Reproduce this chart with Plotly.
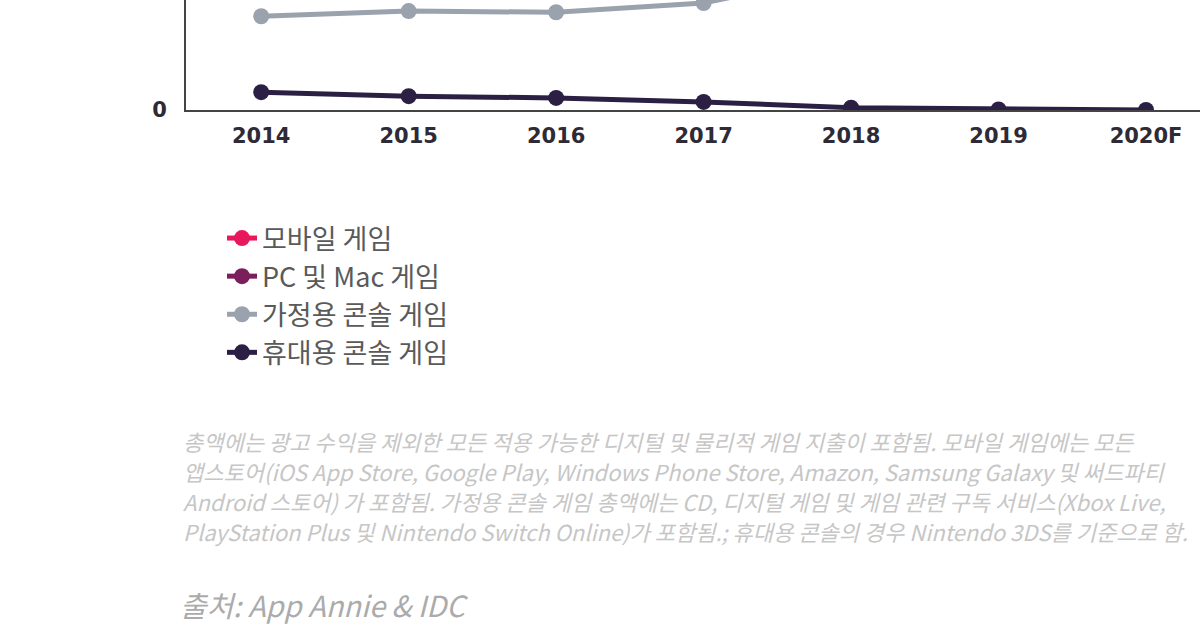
import plotly.graph_objects as go

years = ["2014", "2015", "2016", "2017", "2018", "2019", "2020F"]
mobile = [35.0, 45.0, 55.0, 63.0, 72.0, 82.0, 95.0]
pc_mac = [30.0, 31.0, 32.0, 33.0, 34.0, 35.0, 37.0]
home_console = [16.3, 17.2, 17.0, 18.6, 24.0, 23.5, 25.0]
handheld = [3.1, 2.4, 2.1, 1.4, 0.4, 0.1, 0.0]

series_names = ["모바일 게임", "PC 및 Mac 게임", "가정용 콘솔 게임", "휴대용 콘솔 게임"]
series_values = [mobile, pc_mac, home_console, handheld]
series_colors = ["#e8185d", "#7a1f5c", "#9aa2ae", "#2b1f44"]

footnote_lines = [
    "총액에는 광고 수익을 제외한 모든 적용 가능한 디지털 및 물리적 게임 지출이 포함됨. 모바일 게임에는 모든",
    "앱스토어(iOS App Store, Google Play, Windows Phone Store, Amazon, Samsung Galaxy 및 써드파티",
    "Android 스토어) 가 포함됨. 가정용 콘솔 게임 총액에는 CD, 디지털 게임 및 게임 관련 구독 서비스(Xbox Live,",
    "PlayStation Plus 및 Nintendo Switch Online)가 포함됨.; 휴대용 콘솔의 경우 Nintendo 3DS를 기준으로 함.",
]
source_text = "출처: App Annie & IDC"

fig = go.Figure()
xs = list(range(len(years)))
for name, vals, col in zip(series_names, series_values, series_colors):
    fig.add_trace(go.Scatter(
        x=xs, y=vals, name=name, mode="lines+markers",
        line=dict(color=col, width=5),
        marker=dict(color=col, size=16),
    ))

W, H = 1200, 630
left, bottom_px = 186, 110
PW, PH = W - left, bottom_px


def px_x(x):
    return (x - left) / PW


def px_y(y):
    return 1 - y / PH


tick_font = dict(family="DejaVu Sans, sans-serif", size=21, color="#2e2a36", weight="bold")

fig.update_layout(
    width=W, height=H,
    margin=dict(l=left, r=0, t=0, b=H - bottom_px, pad=0, autoexpand=False),
    paper_bgcolor="white", plot_bgcolor="white",
    font=dict(family="Noto Sans CJK KR, sans-serif", color="#555"),
    showlegend=True,
    legend=dict(
        x=px_x(222), y=px_y(214), xanchor="left", yanchor="top",
        font=dict(size=27, color="#5a5a5a", family="Noto Sans CJK KR, sans-serif"),
        itemwidth=30, tracegroupgap=0, traceorder="normal",
        bgcolor="rgba(0,0,0,0)",
    ),
    xaxis=dict(
        range=[-0.51, 6.366], tickmode="array", tickvals=xs, ticktext=years,
        showgrid=False, zeroline=False, showline=True, linecolor="#444", linewidth=2,
        ticks="", ticklabelstandoff=6, automargin=False,
        tickfont=tick_font,
    ),
    yaxis=dict(
        range=[0, 110 / 5.75], tickmode="array", tickvals=[0], ticktext=["0"],
        showgrid=False, zeroline=False, showline=True, linecolor="#444", linewidth=2,
        ticks="", ticklabelstandoff=13, automargin=False,
        tickfont=tick_font,
    ),
)

line_y = [441, 471, 501, 531]
for txt, yy in zip(footnote_lines, line_y):
    fig.add_annotation(
        xref="paper", yref="paper", x=px_x(181), y=px_y(yy),
        xanchor="left", yanchor="middle", showarrow=False, align="left",
        text="<i>" + txt + "</i>",
        font=dict(size=22, color="#c6c6c6", family="Noto Sans CJK KR, sans-serif"),
    )

fig.add_annotation(
    xref="paper", yref="paper", x=px_x(178), y=px_y(604),
    xanchor="left", yanchor="middle", showarrow=False, align="left",
    text="<i>" + source_text + "</i>",
    font=dict(size=29, color="#ababab", family="Noto Sans CJK KR, sans-serif"),
)

fig.write_html(
    "out.html",
    config={"displayModeBar": False},
    post_script="document.body.style.margin='0px';",
)
